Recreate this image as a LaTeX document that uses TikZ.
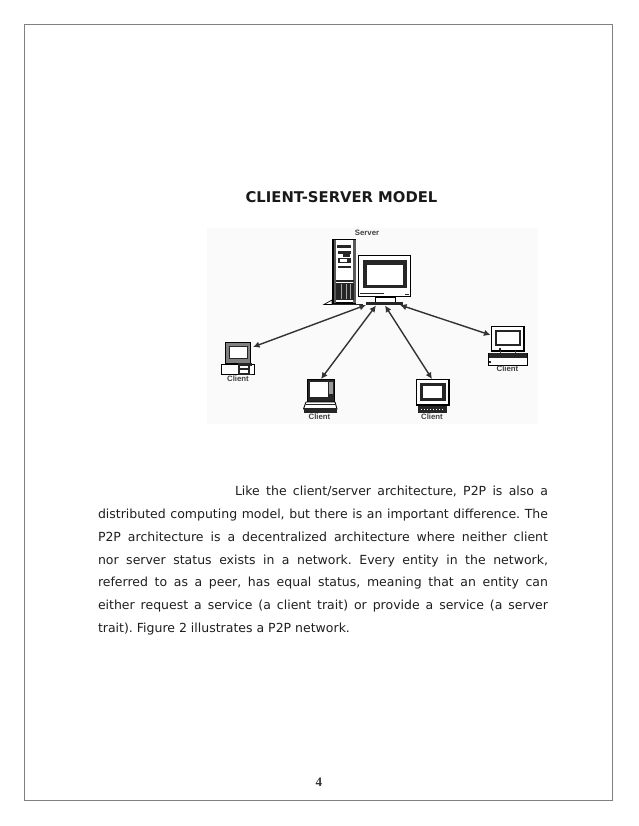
\documentclass[tikz,border=0pt]{standalone}
\usepackage{fontspec}
\setmainfont{DejaVu Sans}
\newfontfamily\lab{Liberation Sans}
\newfontfamily\pagenum{Liberation Serif}
\usetikzlibrary{arrows.meta}
\frenchspacing
\tikzset{
  x=1pt,y=-1pt,
  bodyline/.style={anchor=base west,inner sep=0,outer sep=0,font=\fontsize{12.5}{14}\selectfont,text=black!88},
  lbl/.style={inner sep=0,font=\lab\bfseries\fontsize{7.8}{8}\selectfont,text=black!75},
  fr/.style={draw=black,line width=0.9pt,fill=white},
  wire/.style={draw=black!80,line width=1.4pt,{Latex[length=6.5pt,width=6.5pt]}-{Latex[length=6.5pt,width=6.5pt]}}
}
\begin{document}
\begin{tikzpicture}
\useasboundingbox (0,0) rectangle (638,826);
\fill[white] (0,0) rectangle (638,826);
\draw[black!50,line width=1pt] (24.5,24.8) rectangle (612.8,800.8);
\node[inner sep=0,font=\bfseries\fontsize{14.8}{16}\selectfont,text=black!90] (title) at (341.5,197) {CLIENT-SERVER MODEL};
\fill[black!2] (207,228) rectangle (538,424);
\node[lbl] (serverlabel) at (367,233) {Server};
% server tower
\fill[black!85] (324,303.5) rectangle (363,305);
\draw[fr,line width=0.7pt] (324,304.5) -- (332,300) -- (332,304.5) -- cycle;
\draw[fr,line width=1.1pt] (333,239.5) rectangle (355.5,303);
\fill[black!65] (334,240) rectangle (336,303);
\fill[black!65] (353,240) rectangle (355.5,303);
\fill[black!85] (337,245) rectangle (351,248);
\fill[black!85] (338,251) rectangle (351,254);
\fill[black!85] (343,252) rectangle (350,257);
\fill[black!85] (338,258) rectangle (351,263);
\fill[white] (340,259) rectangle (347,261.5);
\fill[black!85] (338,266) rectangle (351,268);
\fill[black!85] (336,280) rectangle (354,282);
\fill[black!85] (336,283) rectangle (354,300);
\foreach \xx in {341,346,350}{\fill[black!35] (\xx,284) rectangle (\xx+1.3,299);}
% server monitor
\draw[fr] (358.5,255.5) rectangle (410.5,296.5);
\fill[black!85] (363,260) rectangle (407,288);
\fill[white] (367,264.5) rectangle (403,285);
\draw[black!85,line width=0.8pt] (360,293.5) -- (384,293.5) (405,294) -- (409,294);
\draw[fr] (375,297) rectangle (395,302);
\fill[black!85] (366,302) rectangle (403,305);
% client 1
\draw[fr,line width=1pt,fill=black!50] (225.5,342) rectangle (250,363);
\fill[white] (229,346) rectangle (247,358);
\draw[black!85,line width=0.9pt] (229,346) rectangle (247,358);
\draw[fr] (221.5,364.5) rectangle (254,374.5);
\fill[black!85] (238,363) rectangle (252,375);
\fill[white] (240,366) rectangle (248,368);
\fill[white] (240,370) rectangle (248,372.5);
\fill[white] (249.5,366) rectangle (252,374);
% client 2
\draw[fr,line width=1pt,fill=black!85] (307,379) rectangle (334,402);
\fill[white] (310,382) rectangle (328,397);
\fill[black!40] (329,382) rectangle (332.5,394);
\draw[fr] (306,402) -- (335,402) -- (337,409) -- (303.5,409) -- cycle;
\fill[black!85] (303.5,408) rectangle (337,413);
\fill[black!85] (306,403.5) rectangle (335,404.5);
% client 3
\draw[fr,line width=1.1pt] (416.5,379.5) rectangle (449,405);
\fill[black!85] (420,383) rectangle (445.5,401);
\fill[white] (423,386) rectangle (442,398);
\fill[black!85] (417.5,406) rectangle (447,413);
\foreach \xx in {421,424,...,444}{\fill[white] (\xx,408.5) rectangle (\xx+1.2,409.8);}
% client 4
\draw[fr,line width=1.1pt] (491.5,326.5) rectangle (524,351);
\fill[black!85] (495,330) rectangle (521,346);
\fill[white] (497,332) rectangle (519,344);
\fill[black!85] (499,348) rectangle (501,350);
\draw[fr] (488.5,353) rectangle (527,365);
\fill[black!85] (488.5,353) rectangle (527,358);
\fill[black!85] (488.5,361) rectangle (491,363);
\draw[black!70] (500,351) -- (500,353) (515,351) -- (515,353);
% names
\node[lbl] (c1label) at (238,378.5) {Client};
\node[lbl] (c2label) at (319.5,416.5) {Client};
\node[lbl] (c3label) at (432,416.5) {Client};
\node[lbl] (c4label) at (507.5,369) {Client};
% connector ends
\coordinate (hubA) at (366,305);
\coordinate (hubB) at (376,305.5);
\coordinate (hubC) at (385,305.5);
\coordinate (hubD) at (400,305);
\coordinate (clientA) at (253,347);
\coordinate (clientB) at (321,379);
\coordinate (clientC) at (432,379);
\coordinate (clientD) at (490.5,335);
\draw[wire] (hubA) -- (clientA);
\draw[wire] (hubB) -- (clientB);
\draw[wire] (hubC) -- (clientC);
\draw[wire] (hubD) -- (clientD);
% body
\node[bodyline] (l1) at (235,495.5) {\hbox to 313pt{Like the client/server architecture, P2P is also a}};
\node[bodyline] (l2) at (98,518.4) {\hbox to 450pt{distributed computing model, but there is an important difference. The}};
\node[bodyline] (l3) at (98,541.2) {\hbox to 450pt{P2P architecture is a decentralized architecture where neither client}};
\node[bodyline] (l4) at (98,564) {\hbox to 450pt{nor server status exists in a network. Every entity in the network,}};
\node[bodyline] (l5) at (98,586.9) {\hbox to 450pt{referred to as a peer, has equal status, meaning that an entity can}};
\node[bodyline] (l6) at (98,609.7) {\hbox to 450pt{either request a service (a client trait) or provide a service (a server}};
\node[bodyline] (l7) at (98,632.5) {trait). Figure 2 illustrates a P2P network.};
\node[inner sep=0,font=\pagenum\bfseries\fontsize{13}{15}\selectfont,text=black!80] (pg) at (318.8,782) {4};
\end{tikzpicture}
\end{document}
